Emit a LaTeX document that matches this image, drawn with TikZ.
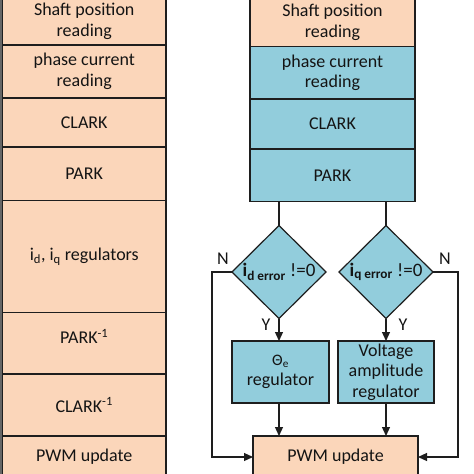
\documentclass[tikz,border=0pt]{standalone}
\usepackage{fontspec}
\setmainfont{Carlito}
\usepackage{tikz}
\usetikzlibrary{shapes.geometric, arrows.meta, positioning}
\definecolor{speach}{RGB}{251,214,186}
\definecolor{sblue}{RGB}{146,205,220}
\definecolor{sline}{RGB}{30,30,30}
\definecolor{stext}{RGB}{20,20,20}

\begin{document}
\begin{tikzpicture}[
  x=1pt,y=-1pt,
  font=\fontsize{18}{20.5}\selectfont,
  box/.style={draw=sline,fill=speach,line width=1.2pt,outer sep=0pt,
              inner sep=1pt,align=center,text=stext},
  lbox/.style={box,minimum width=163.5pt},
  rbox/.style={box,minimum width=165pt},
  bbox/.style={box,fill=sblue},
  dec/.style={diamond,draw=sline,fill=sblue,line width=1.2pt,aspect=1,
              minimum width=94pt,minimum height=93pt,inner sep=0pt,
              outer sep=0pt,text=stext,font=\fontsize{19}{21}\selectfont},
  lbl/.style={text=stext,inner sep=0pt},
  arr/.style={-{Triangle[length=9pt,width=8pt]},line width=1.2pt,color=sline},
  ln/.style={line width=1.2pt,color=sline}
]
  \clip (0,0) rectangle (474,474);
  \useasboundingbox (0,0) rectangle (474,474);
  \fill[black!60] (0,0) rectangle (2,474);

  % Left column
  \node[lbox,minimum height=47pt] (l1) at (84.25,21.5) {Shaft position\\reading};
  \node[lbox,minimum height=53pt,below=0pt of l1] (l2) {phase current\\reading};
  \node[lbox,minimum height=49pt,below=0pt of l2] (l3) {CLARK};
  \node[lbox,minimum height=53.5pt,below=0pt of l3] (l4) {PARK};
  \node[lbox,minimum height=112pt,below=0pt of l4] (l5) {i\textsubscript{d}, i\textsubscript{q} regulators};
  \node[lbox,minimum height=61.5pt,below=0pt of l5] (l6)
    {\raisebox{7pt}[\height][\depth]{PARK\textsuperscript{-1}}};
  \node[lbox,minimum height=62pt,below=0pt of l6] (l7) {CLARK\textsuperscript{-1}};
  \node[lbox,minimum height=42pt,below=0pt of l7] (l8) {PWM update};

  % Right column
  \node[rbox,minimum height=48.5pt] (r1) at (332.5,22.25) {Shaft position\\reading};
  \node[rbox,bbox,minimum height=52.5pt,below=0pt of r1] (r2) {phase current\\reading};
  \node[rbox,bbox,minimum height=50pt,below=0pt of r2] (r3) {CLARK};
  \node[rbox,bbox,minimum height=52.5pt,below=0pt of r3] (r4) {PARK};

  % Decisions
  \node[dec] (dd) at (279,272) {{\bfseries i\textsubscript{d error}} !=0};
  \node[dec] (dq) at (386,272) {{\bfseries i\textsubscript{q error}} !=0};

  % Regulators
  \node[bbox,minimum width=97pt,minimum height=62pt] (reg1) at (280.5,372)
    {{\fontsize{16}{18}\selectfont Θ\textsubscript{e}}\\regulator};
  \node[bbox,minimum width=96pt,minimum height=62pt] (reg2) at (386,372)
    {Voltage\\amplitude\\regulator};

  \node[box,minimum width=165pt,minimum height=42pt] (pwm) at (335.5,457) {PWM update};

  % Connectors
  \draw[ln] (r4.south -| dd) -- (dd.north);
  \draw[ln] (r4.south -| dq) -- (dq.north);
  \draw[arr] (dd.south) -- (reg1.north -| dd);
  \draw[arr] (dq.south) -- (reg2.north -| dq);
  \draw[arr] (reg1.south -| dd) -- (pwm.north -| dd);
  \draw[arr] (reg2.south -| dq) -- (pwm.north -| dq);
  \draw[arr] (dd.west) -- ++(-20,0) |- (pwm.west);
  \draw[arr] (dq.east) -- ++(25,0) |- (pwm.east);

  % Y / N labels
  \node[lbl] (n1) at (223,259) {N};
  \node[lbl] (y1) at (266,325) {Y};
  \node[lbl] (n2) at (445,259) {N};
  \node[lbl] (y2) at (403,325) {Y};
\end{tikzpicture}
\end{document}
